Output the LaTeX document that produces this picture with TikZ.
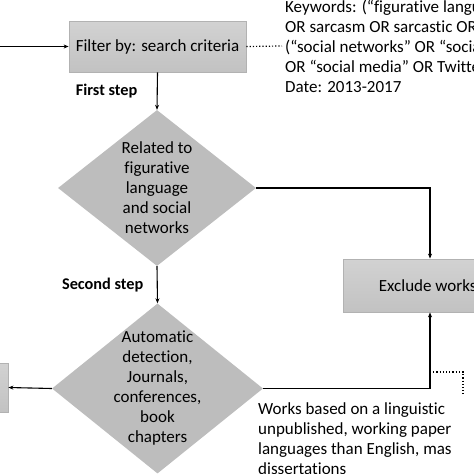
\documentclass[tikz,border=0pt]{standalone}
\usepackage{fontspec}
\setmainfont{Carlito}[Ligatures=NoCommon]
\usetikzlibrary{positioning,shapes.geometric,arrows.meta}
\definecolor{boxtop}{HTML}{D2D2D2}
\definecolor{boxbot}{HTML}{C2C2C2}
\definecolor{boxline}{HTML}{B2B2B2}
\definecolor{diagray}{HTML}{BDBDBD}

\begin{document}
\begin{tikzpicture}[x=1pt,y=-1pt,
    every node/.style={font=\fontsize{17}{20}\selectfont},
    box/.style={draw=boxline, line width=0.8pt, top color=boxtop, bottom color=boxbot,
        minimum width=177pt, minimum height=51pt, inner sep=0pt},
    decision/.style={diamond, fill=diagray, inner sep=0pt},
    flow/.style={line width=1.1pt, -{Stealth[length=5pt,width=4pt]}},
    note/.style={dotted, line width=1.2pt},
    steplabel/.style={font=\fontsize{16.3}{20}\selectfont\bfseries},
    notetext/.style={align=left, inner sep=0pt}]
    \clip (0,0) rectangle (474,474);
    % boxes and decisions
    \node[box] (filter) at (157.5,46.5) {Filter by: search criteria};
    \node[decision, minimum width=198pt, minimum height=156pt] (rel) at (157,188) {};
    \node[align=center, inner sep=0pt] at (rel.center) {Related to\\figurative\\language\\and social\\networks};
    \node[decision, minimum width=211pt, minimum height=170pt] (auto) at (157.5,388.5) {};
    \node[align=center, inner sep=0pt] at (auto.center) {Automatic\\detection,\\Journals,\\conferences,\\book\\chapters};
    \node[box, minimum width=174pt, minimum height=53pt] (exclude) at (430,285.5) {Exclude works:};
    \node[box, minimum height=49pt] (keep) at (-80.5,387.5) {};
    % notes
    \node[notetext, anchor=west] (keywords) at (285,46) {Keywords: (“figurative langu\\OR sarcasm OR sarcastic OR\\(“social networks” OR “socia\\OR “social media” OR Twitte\\Date: 2013-2017};
    \node[notetext, anchor=north west] (works) at (258,402) {Works based on a linguistic\\unpublished, working paper\\languages than English, mas\\dissertations};
    \coordinate (start) at (-5,46.5);
    \coordinate (tap) at (430,372);
    \coordinate (callout) at (463,394);
    % connectors
    \draw[flow] (start) -- (filter.west);
    \draw[flow] (filter.south) -- node[steplabel, left=16pt] {First step} (rel.north);
    \draw[flow] (rel.south) -- node[steplabel, left=10pt] {Second step} (auto.north);
    \draw[flow] (rel.east) -| (exclude.north);
    \draw[flow] (auto.east) -| (exclude.south);
    \draw[flow] (auto.west) -- (keep.east);
    \draw[note] (filter.east) -- ([xshift=-3pt]keywords.west);
    \draw[note] (tap) -| (callout);
\end{tikzpicture}
\end{document}
